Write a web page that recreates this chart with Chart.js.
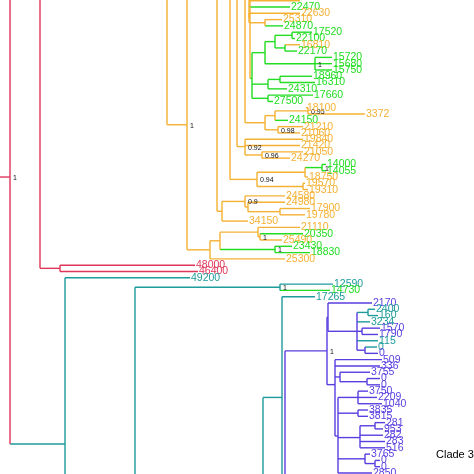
<!DOCTYPE html>
<html><head><meta charset="utf-8">
<script src="https://cdn.jsdelivr.net/npm/chart.js@4"></script>
<style>html,body{margin:0;padding:0;background:#fff}#w{width:474px;height:474px}</style>
</head><body><div id="w"><canvas id="c"></canvas></div>
<script>
// Tree topology: leaf = label@depth[#clade], internal = (children)support@depth[!row][#clade]
const treeA = "((@100,@100,@100,@100,@100,@100,@100,@100)@30,((@230,@260)@180,(((((((@300,@300,22470@290#g,(22630@300,(25310@282,24870@283#g)@265)@249)@249!-3,((((17520@312#g,22100@295#g)@292#g,(16810@300#o,22170@297#g)@285#g)@275,(15720@332,15680@332,15750@332)1@315)@265,((18960@312,16310@315)@280,24310@287)@268,(17660@313,27500@273)@268)@252#g)@250!-3,(((18100@306,3372@365)0.95@308,24150@288#g)@275,(21210@303,21060@300)0.98@278)@265)@245!-3,(19840@303,21420@300,(21050@303,24270@290)0.96@262)0.92@245)@237!-3,(((14000@326,14055@326)1@322#g,18750@308)@305,(19570@305,19310@308)@303)0.94@257)@230!-3,((24580@285,(24980@285,(17900@310,19780@305)@280)@248)0.9@245,34150@248)@222)@217!-2,(((21110@300,(20350@303#g,25490@282)1@260)@258,(23430@292#g,18830@310)1@275#g)@220,25300@285)@210)1@187!18.7)@167!-15#o,(48000@195,46400@198)@60)@40!-20";
const treeB = "(49200@190,((12590@333,14730@330#g)1@280,((17265@315,(((2170@372,((2400@375#t,160@378#t)@368#t,3234@370#t,(1570@380,1790@378)@362,115@378#t,(0@377#t,0@378)@365)@357)@328,(509@382,336@380,(3755@370,(0@380,0@380)@367)@340,((3750@368,2209@377,1040@382)@358,(3835@368,3815@368)@358,((281@385,953@383)@375,282@383,283@385,516@385)@360,(3765@370,(0@380,0@380)@375)@365,2850@372)@338)@335)1@327,(@350,@350,@350)@300)0.9@285!78#p)@282,(@300,@300,@300)@280)@263!82)@135!80,(@200,@200,@200)@100)@65!69.4#t";
const treeRoot = "(" + treeA + "," + treeB + ")1@10!27#r";
const rootStem = 0;
const topLeaf = "22470", bottomLeaf = "2850";
const cladeText = "Clade 3";
const cladeColors = {r:"#e0365a", o:"#f5b133", g:"#22dd22", t:"#1e9b9b", p:"#5a3ee0"};

function parseTree(s){
  let i=0;
  function num(){ let v=""; while(i<s.length && /[0-9.\-]/.test(s[i])) v+=s[i++]; return +v; }
  function node(){
    const n={children:[],label:"",support:"",x:0,fy:null,c:null};
    if(s[i]==="("){ i++;
      while(true){ n.children.push(node()); if(s[i]===","){i++;continue;} i++; break; }
      let sup=""; while(s[i]!=="@") sup+=s[i++]; n.support=sup;
    } else { let l=""; while(s[i]!=="@") l+=s[i++]; n.label=l; }
    i++; n.x=num();
    if(s[i]==="!"){ i++; n.fy=num(); }
    if(s[i]==="#"){ i++; n.c=s[i++]; }
    return n;
  }
  const r=node();
  (function inh(n,pc){ if(!n.c) n.c=pc; n.children.forEach(ch=>inh(ch,n.c)); })(r,"r");
  return r;
}
const root=parseTree(treeRoot);
const leaves=[];
(function walk(n){ if(!n.children.length){leaves.push(n);} else n.children.forEach(walk); })(root);
const k0=leaves.findIndex(l=>l.label===topLeaf);
const k1=leaves.findIndex(l=>l.label===bottomLeaf);
leaves.forEach((l,i)=>l.y=i-k0);
(function sety(n){ if(n.children.length){ n.children.forEach(sety); n.y=n.fy!==null?n.fy:n.children.reduce((a,c)=>a+c.y,0)/n.children.length; } })(root);

const segList=[];
(function draw(n,p){
  const px=p?p.x:rootStem;
  segList.push({c:n.c,pts:[{x:px,y:n.y},{x:n.x,y:n.y}]});
  if(n.children.length){
    const ys=n.children.map(c=>c.y).concat([n.y]);
    segList.push({c:n.c,pts:[{x:n.x,y:Math.min(...ys)},{x:n.x,y:Math.max(...ys)}]});
    n.children.forEach(c=>draw(c,n));
  }
})(root,null);

const span=k1-k0, step=466/span, ymin=-7/step, ymax=ymin+474/step;
const allNodes=[]; (function all(n){allNodes.push(n); n.children.forEach(all);})(root);

const labelPlugin={id:"lbl",afterDatasetsDraw(ch){
  const c=ch.ctx, xs=ch.scales.x, ys=ch.scales.y;
  c.save(); c.textBaseline="middle";
  allNodes.forEach(n=>{
    const px=xs.getPixelForValue(n.x), py=ys.getPixelForValue(n.y);
    if(!n.children.length && n.label){ c.font="10.5px 'Liberation Sans', Arial"; c.fillStyle=cladeColors[n.c]; c.fillText(n.label,px+1,py); }
    if(n.support){ c.font="7px 'Liberation Sans', Arial"; c.fillStyle="#111"; c.fillText(n.support,px+3,py+1); }
  });
  c.font="11px 'Liberation Sans', Arial"; c.fillStyle="#000"; c.fillText(cladeText,436,455);
  c.restore();
}};

new Chart(document.getElementById("c"),{
  type:"scatter",
  data:{datasets:segList.map(s=>({data:s.pts,showLine:true,borderColor:cladeColors[s.c],borderWidth:1.4,pointRadius:0,fill:false}))},
  options:{responsive:true,maintainAspectRatio:false,animation:false,
    layout:{padding:0},
    plugins:{legend:{display:false},tooltip:{enabled:false}},
    scales:{x:{type:"linear",min:0,max:474,display:false},y:{type:"linear",min:ymin,max:ymax,reverse:true,display:false}}},
  plugins:[labelPlugin]
});
</script></body></html>
